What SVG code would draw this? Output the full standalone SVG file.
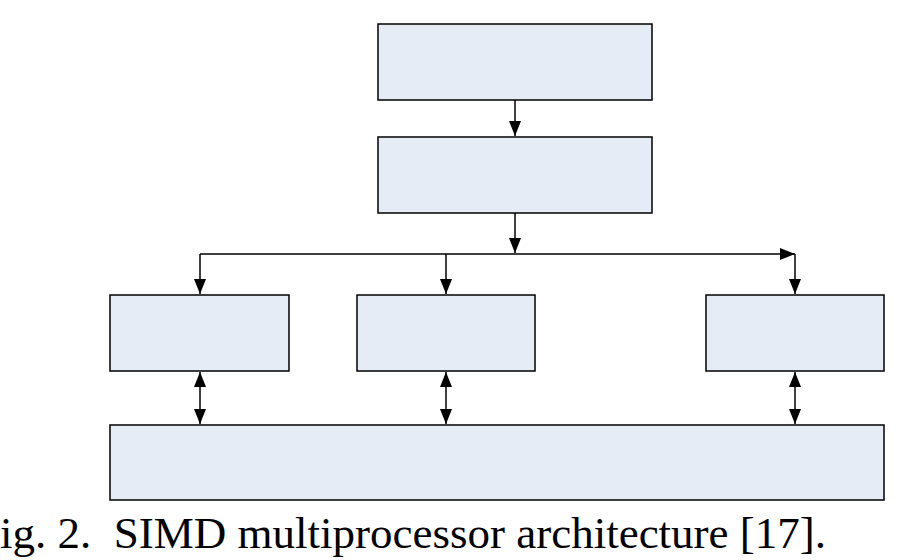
<svg xmlns="http://www.w3.org/2000/svg" width="901" height="560" viewBox="0 0 901 560">
<style>
.b{fill:#e5ecf6;stroke:#000;stroke-width:1.5}
.c{stroke:#000;stroke-width:1.5;fill:none}
.t{font-family:"Liberation Serif",serif;font-size:45px;fill:#000}
</style>
<defs>
<marker id="m" viewBox="0 0 10 10" refX="10" refY="5" markerWidth="15" markerHeight="12" orient="auto-start-reverse" markerUnits="userSpaceOnUse" preserveAspectRatio="none"><path d="M0,0L10,5L0,10z" fill="#000"/></marker>
</defs>
<rect width="901" height="560" fill="#fff"/>
<g id="n1"><rect class="b" x="378" y="24" width="274" height="76"/></g>
<g id="n2"><rect class="b" x="378" y="137" width="274" height="76"/></g>
<g id="p1"><rect class="b" x="110" y="295" width="179" height="76"/></g>
<g id="p2"><rect class="b" x="357" y="295" width="178" height="76"/></g>
<g id="p3"><rect class="b" x="706" y="295" width="178" height="76"/></g>
<g id="mem"><rect class="b" x="110" y="425" width="774" height="75"/></g>
<g id="edges" class="c">
<line x1="515" y1="100" x2="515" y2="136" marker-end="url(#m)"/>
<line x1="515" y1="213" x2="515" y2="253" marker-end="url(#m)"/>
<line x1="200" y1="254" x2="795" y2="254" marker-end="url(#m)"/>
<line x1="200" y1="254" x2="200" y2="294" marker-end="url(#m)"/>
<line x1="446" y1="254" x2="446" y2="294" marker-end="url(#m)"/>
<line x1="795" y1="254" x2="795" y2="294" marker-end="url(#m)"/>
<line x1="200" y1="372" x2="200" y2="424" marker-start="url(#m)" marker-end="url(#m)"/>
<line x1="446" y1="372" x2="446" y2="424" marker-start="url(#m)" marker-end="url(#m)"/>
<line x1="795" y1="372" x2="795" y2="424" marker-start="url(#m)" marker-end="url(#m)"/>
</g>
<text class="t" x="0" y="548" xml:space="preserve">ig. 2.  SIMD multiprocessor architecture [17].</text>
</svg>
